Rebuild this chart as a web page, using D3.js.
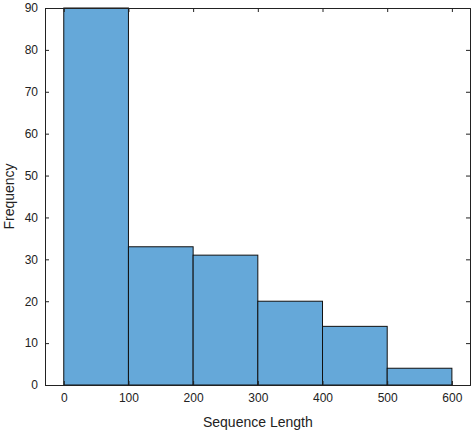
<!DOCTYPE html><html><head><script src="https://cdn.jsdelivr.net/npm/d3@7"></script>
<style>body{margin:0;background:#fff}text{font-family:Arial,"Liberation Sans",sans-serif}</style></head><body>
<script>
const binEdges=[0,100,200,300,400,500,600];
const counts=[90,33,31,20,14,4];
const xTicks=[0,100,200,300,400,500,600];
const yTicks=[0,10,20,30,40,50,60,70,80,90];
const W=474,H=434,m={l:45,r:4,t:8,b:49};
const svg=d3.select("body").append("svg").attr("width",W).attr("height",H);
const x=d3.scaleLinear().domain([-29,628]).range([m.l,W-m.r]);
const y=d3.scaleLinear().domain([0,90]).range([H-m.b,m.t]);
const bins=counts.map((c,i)=>({x0:binEdges[i],x1:binEdges[i+1],c}));
svg.selectAll("rect.bar").data(bins).join("rect").attr("class","bar")
 .attr("x",d=>x(d.x0)).attr("width",d=>x(d.x1)-x(d.x0))
 .attr("y",d=>y(d.c)).attr("height",d=>y(0)-y(d.c))
 .attr("fill","#65a8d9").attr("stroke","#111").attr("stroke-width",1);
const g=svg.append("g");
const bx=d3.axisBottom(x).tickValues(xTicks).tickSize(-4).tickPadding(8);
const tx=d3.axisTop(x).tickValues(xTicks).tickSize(-4).tickFormat("");
const ly=d3.axisLeft(y).tickValues(yTicks).tickSize(-4).tickPadding(7);
const ry=d3.axisRight(y).tickValues(yTicks).tickSize(-4).tickFormat("");
g.append("g").attr("transform",`translate(0,${H-m.b})`).call(bx);
g.append("g").attr("transform",`translate(0,${m.t})`).call(tx);
g.append("g").attr("transform",`translate(${m.l},0)`).call(ly);
g.append("g").attr("transform",`translate(${W-m.r},0)`).call(ry);
g.selectAll(".domain").attr("stroke","#222");
g.selectAll(".tick line").attr("stroke","#222");
g.selectAll(".tick text").attr("font-size",12).attr("fill","#222");
svg.append("text").attr("x",(x(0)+x(600))/2).attr("y",H-7).attr("text-anchor","middle").attr("font-size",14).attr("fill","#222").text("Sequence Length");
svg.append("text").attr("transform",`translate(14,${(m.t+H-m.b)/2}) rotate(-90)`).attr("text-anchor","middle").attr("font-size",14).attr("fill","#222").text("Frequency");
</script></body></html>
